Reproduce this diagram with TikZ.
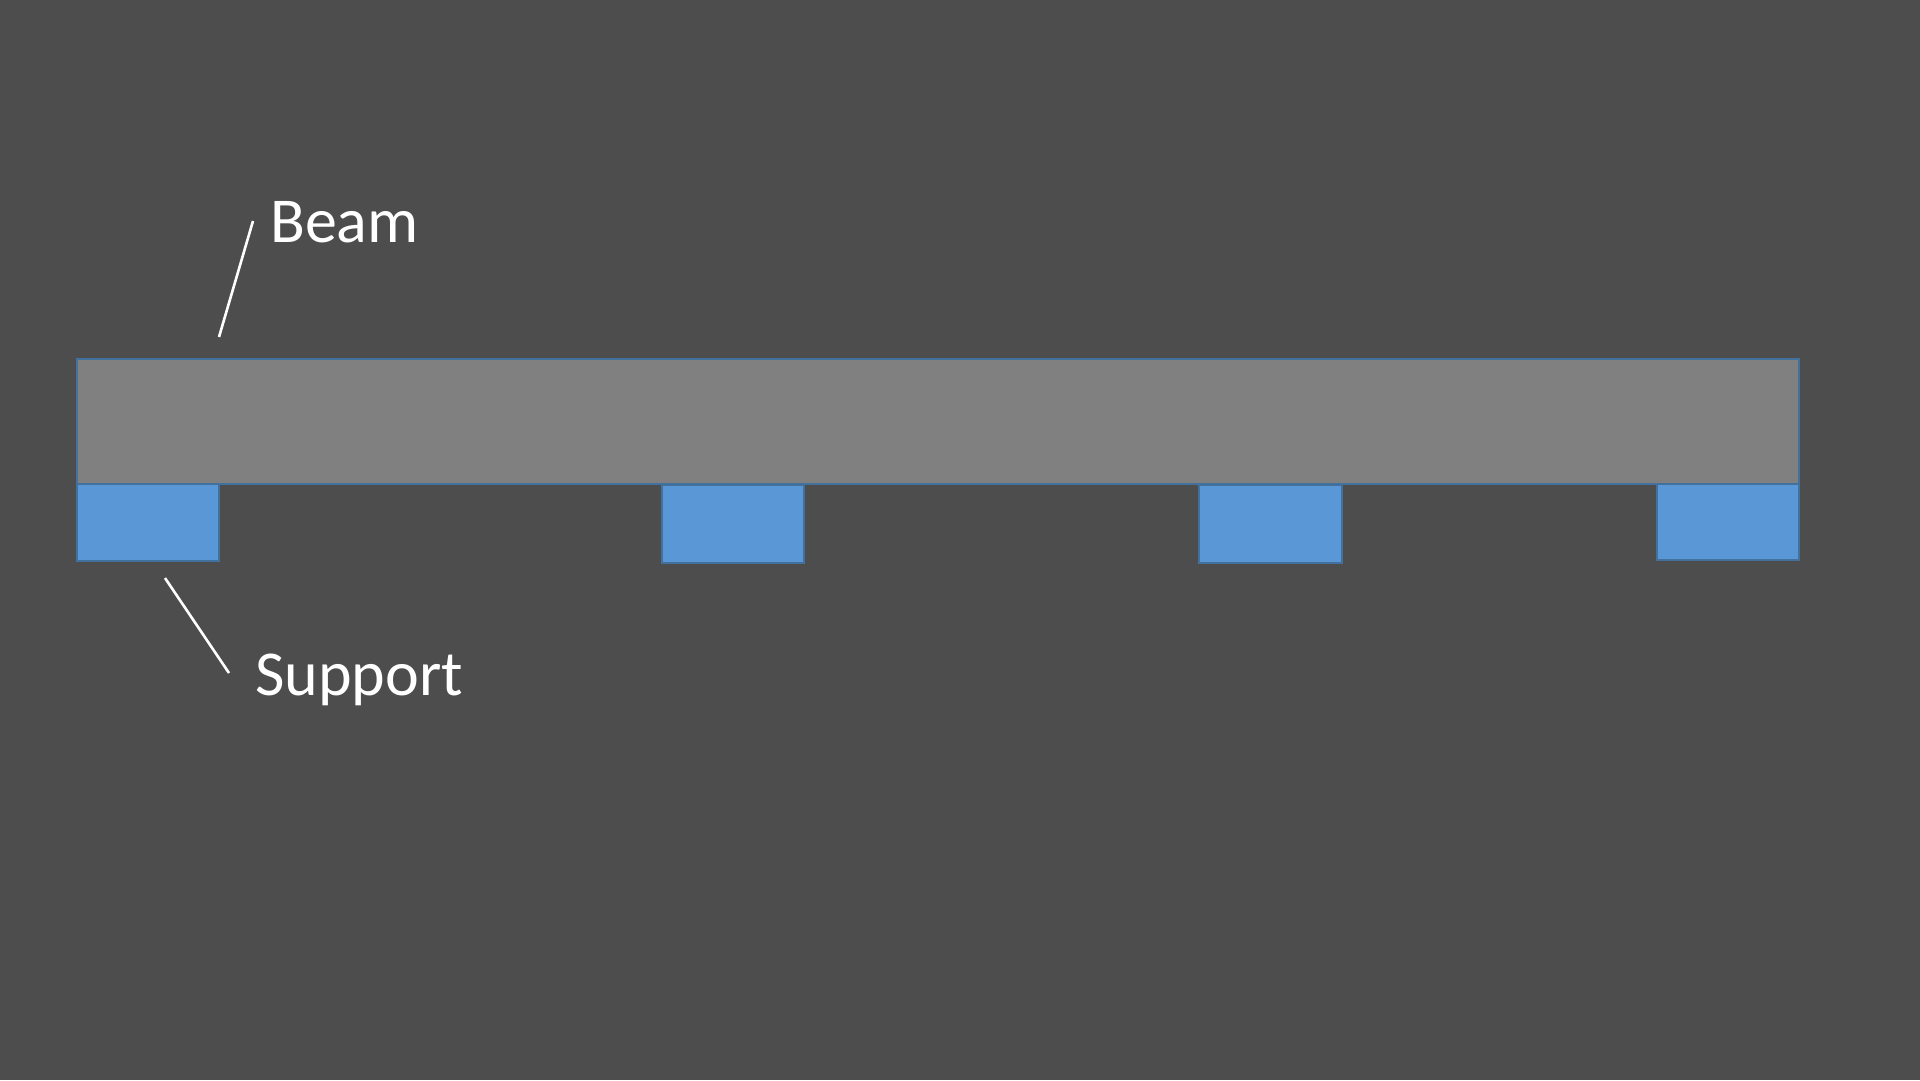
\documentclass[tikz,border=0pt]{standalone}
\usepackage{fontspec}
\setmainfont{Carlito}
\definecolor{bgc}{HTML}{4D4D4D}
\definecolor{beamc}{HTML}{808080}
\definecolor{suppc}{HTML}{5A97D7}
\definecolor{edgec}{HTML}{41719C}
\tikzset{
  beambox/.style={rectangle, draw=edgec, fill=beamc, line width=1.5pt, inner sep=0pt, outer sep=0pt},
  suppbox/.style={rectangle, draw=edgec, fill=suppc, line width=1.5pt, inner sep=0pt, outer sep=0pt},
  lbl/.style={text=white, font=\fontsize{64}{77}\selectfont, inner sep=0pt, anchor=base west},
  leader/.style={draw=white, line width=2.6pt}
}
\begin{document}
\begin{tikzpicture}[x=1pt,y=-1pt]
\fill[bgc] (0,0) rectangle (1920,1080);
\useasboundingbox (0,0) rectangle (1920,1080);
\node[beambox, minimum width=1722pt, minimum height=125pt] (beam) at (938,421.5) {};
\node[suppbox, minimum width=142pt, minimum height=77pt] (s1) at (148,522.5) {};
\node[suppbox, minimum width=142pt, minimum height=78pt] (s2) at (733,524) {};
\node[suppbox, minimum width=143pt, minimum height=78pt] (s3) at (1270.5,524) {};
\node[suppbox, minimum width=142pt, minimum height=76pt] (s4) at (1728,522) {};
\node[lbl] (beamlbl) at (270,242) {Beam};
\node[lbl] (supplbl) at (255,695) {Support};
\coordinate (b1) at (253,221);
\coordinate (b2) at (219,337);
\coordinate (p1) at (165,578);
\coordinate (p2) at (229,673);
\draw[leader] (b1) -- (b2);
\draw[leader] (p1) -- (p2);
\end{tikzpicture}
\end{document}
